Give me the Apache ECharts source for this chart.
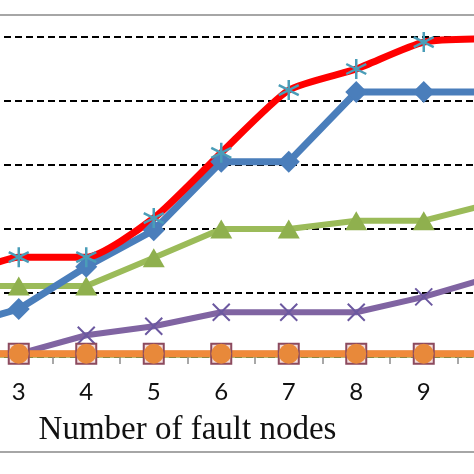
<!DOCTYPE html>
<html>
<head>
<meta charset="utf-8">
<script src="https://cdn.jsdelivr.net/npm/echarts@6/dist/echarts.min.js"></script>
<style>
html,body{margin:0;padding:0;background:#fff;}
#chart{width:474px;height:474px;}
</style>
</head>
<body>
<div id="chart"></div>
<script>
var categories = ['1','2','3','4','5','6','7','8','9','10'];
var yTicks = [0,1,2,3,4,5];
var seriesRed = [0.8, 1.2, 1.56, 1.56, 2.17, 3.19, 4.17, 4.5, 4.92, 4.97];
var seriesBlue = [0.2, 0.45, 0.75, 1.41, 1.98, 3.05, 3.05, 4.14, 4.14, 4.14];
var seriesGreen = [1.0, 1.11, 1.11, 1.11, 1.55, 2.0, 2.0, 2.13, 2.13, 2.4];
var seriesPurple = [0.05, 0.05, 0.05, 0.34, 0.48, 0.70, 0.70, 0.70, 0.94, 1.25];
var seriesSquare = [0.05, 0.05, 0.05, 0.05, 0.05, 0.05, 0.05, 0.05, 0.05, 0.05];
var seriesOrange = [0.05, 0.05, 0.05, 0.05, 0.05, 0.05, 0.05, 0.05, 0.05, 0.05];

var asterisk = 'path://M0,-10L0,10M-8.66,-5L8.66,5M-8.66,5L8.66,-5';
var cross = 'path://M-10,-10L10,10M-10,10L10,-10';

var chart = echarts.init(document.getElementById('chart'), null, {renderer: 'canvas'});
chart.setOption({
  backgroundColor: '#ffffff',
  animation: false,
  graphic: [{
    type: 'rect',
    shape: {x: -10, y: 15, width: 494, height: 437},
    style: {fill: 'none', stroke: '#a6a6a6', lineWidth: 2},
    z: -1
  }],
  grid: {left: -150, width: 675, top: 37, bottom: 117, containLabel: false, outerBoundsMode: 'none'},
  xAxis: {
    type: 'category',
    data: categories,
    boundaryGap: true,
    axisLine: {show: true, lineStyle: {color: '#8fb35a', width: 1.5}},
    axisTick: {show: true, length: 7, lineStyle: {color: '#8c8c8c', width: 1.5}},
    axisLabel: {margin: 23, fontSize: 24, fontFamily: 'Lato', color: '#111'},
    name: 'Number of fault nodes',
    nameLocation: 'middle',
    nameGap: 57,
    nameTextStyle: {fontFamily: 'Liberation Serif', fontSize: 33, color: '#111'}
  },
  yAxis: {
    type: 'value',
    min: yTicks[0],
    max: yTicks[yTicks.length - 1],
    interval: 1,
    axisLine: {show: false},
    axisTick: {show: false},
    axisLabel: {show: false},
    splitLine: {show: true, lineStyle: {color: '#000', width: 2, type: [7, 4]}}
  },
  series: [
    {
      type: 'line', data: seriesGreen, clip: false,
      symbol: 'triangle', symbolSize: [22, 19],
      lineStyle: {color: '#9bbb59', width: 6},
      itemStyle: {color: '#8fb04e'}
    },
    {
      type: 'line', data: seriesPurple, clip: false,
      symbol: cross, symbolSize: 17,
      lineStyle: {color: '#8064a2', width: 6},
      itemStyle: {color: 'transparent', borderColor: '#6b58a0', borderWidth: 2}
    },
    {
      type: 'line', data: seriesBlue, clip: false,
      symbol: 'diamond', symbolSize: [22, 22],
      lineStyle: {color: '#4a7ebb', width: 7},
      itemStyle: {color: '#4a7ebb'}
    },
    {
      type: 'line', data: seriesRed, clip: false, smooth: 0.2,
      symbol: asterisk, symbolSize: 20,
      lineStyle: {color: '#ff0000', width: 7},
      itemStyle: {color: 'transparent', borderColor: '#4a9db8', borderWidth: 2.5}
    },
    {
      type: 'line', data: seriesSquare, clip: false,
      symbol: 'rect', symbolSize: 20,
      lineStyle: {color: '#c0504d', width: 6},
      itemStyle: {color: '#f2dcdb', borderColor: '#8c4a5e', borderWidth: 2}
    },
    {
      type: 'line', data: seriesOrange, clip: false,
      symbol: 'circle', symbolSize: 20,
      lineStyle: {color: '#f08a3a', width: 7},
      itemStyle: {color: '#e8893a'}
    }
  ]
});
</script>
</body>
</html>
